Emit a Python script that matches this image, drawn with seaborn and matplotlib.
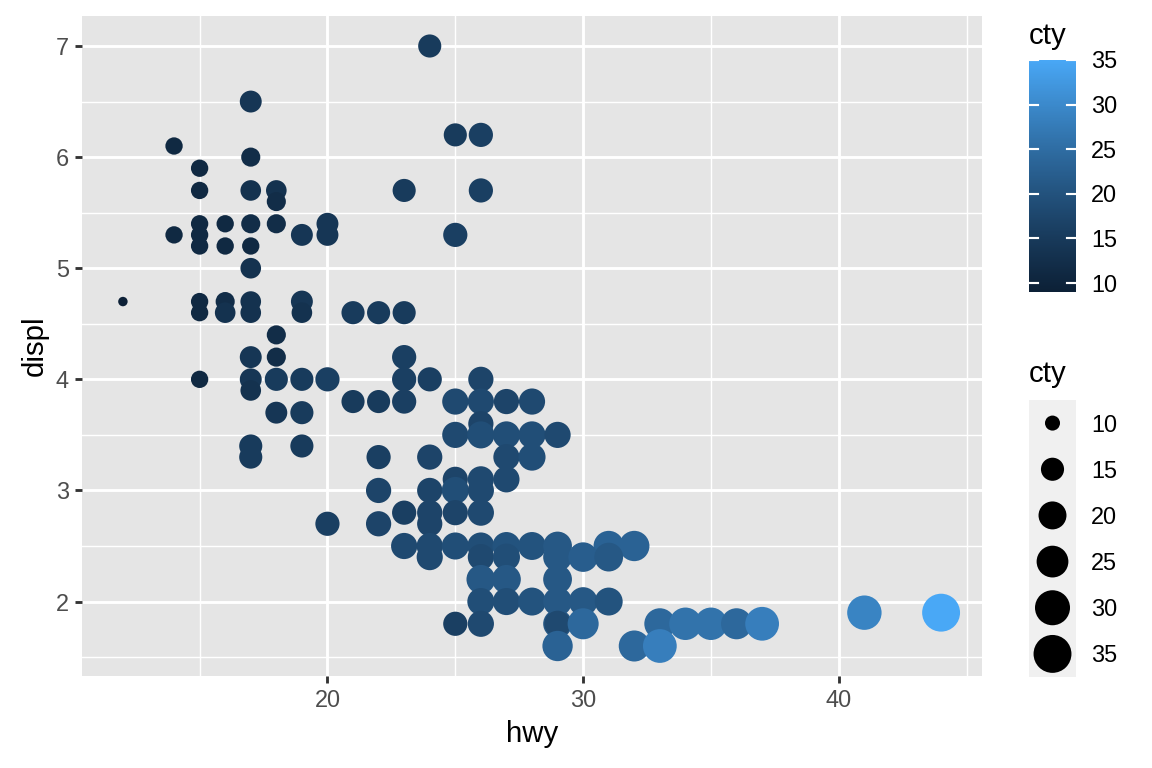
import numpy as np
import pandas as pd
import matplotlib
matplotlib.use("Agg")
import matplotlib.pyplot as plt
import seaborn as sns
from matplotlib.colors import ListedColormap
from matplotlib.ticker import FixedLocator

# ---- data ----
hwy = [24, 17, 25, 26, 14, 17, 15,
       15, 17, 18, 23, 26, 18,
       15, 16, 17, 18, 20,
       14, 15, 19, 20, 25,
       15, 16, 17, 17,
       12, 15, 16, 17, 19,
       15, 16, 17, 19, 21, 22, 23,
       18, 17, 18, 23,
       15, 17, 18, 19, 20, 23, 24, 26,
       17,
       21, 22, 23, 25, 26, 27, 28,
       18, 19, 26,
       25, 26, 27, 28, 29,
       17, 19,
       17, 22, 24, 27, 28,
       25, 26, 27,
       22, 24, 25, 26,
       23, 24, 25, 26,
       20, 22, 24,
       23, 24, 25, 26, 27, 28, 29, 31, 32,
       24, 26, 27, 29, 30, 31,
       26, 27, 29,
       26, 27, 28, 29, 30, 31,
       25, 26, 29, 29, 30, 33, 34, 35, 36, 37,
       29, 32, 33,
       41, 44]
displ = [7.0, 6.5, 6.2, 6.2, 6.1, 6.0, 5.9,
         5.7, 5.7, 5.7, 5.7, 5.7, 5.6,
         5.4, 5.4, 5.4, 5.4, 5.4,
         5.3, 5.3, 5.3, 5.3, 5.3,
         5.2, 5.2, 5.2, 5.0,
         4.7, 4.7, 4.7, 4.7, 4.7,
         4.6, 4.6, 4.6, 4.6, 4.6, 4.6, 4.6,
         4.4, 4.2, 4.2, 4.2,
         4.0, 4.0, 4.0, 4.0, 4.0, 4.0, 4.0, 4.0,
         3.9,
         3.8, 3.8, 3.8, 3.8, 3.8, 3.8, 3.8,
         3.7, 3.7, 3.6,
         3.5, 3.5, 3.5, 3.5, 3.5,
         3.4, 3.4,
         3.3, 3.3, 3.3, 3.3, 3.3,
         3.1, 3.1, 3.1,
         3.0, 3.0, 3.0, 3.0,
         2.8, 2.8, 2.8, 2.8,
         2.7, 2.7, 2.7,
         2.5, 2.5, 2.5, 2.5, 2.5, 2.5, 2.5, 2.5, 2.5,
         2.4, 2.4, 2.4, 2.4, 2.4, 2.4,
         2.2, 2.2, 2.2,
         2.0, 2.0, 2.0, 2.0, 2.0, 2.0,
         1.8, 1.8, 1.8, 1.8, 1.8, 1.8, 1.8, 1.8, 1.8, 1.8,
         1.6, 1.6, 1.6,
         1.9, 1.9]
cty = [15, 14, 15, 16, 11, 12, 11,
       11, 13, 13, 15, 16, 12,
       11, 11, 12, 12, 14,
       11, 11, 14, 14, 16,
       11, 11, 11, 13,
       9, 11, 12, 13, 14,
       11, 13, 13, 13, 15, 15, 15,
       12, 14, 12, 16,
       11, 14, 15, 15, 16, 16, 16, 17,
       13,
       15, 15, 16, 18, 18, 17, 18,
       14, 15, 17,
       18, 19, 19, 19, 18,
       15, 15,
       15, 16, 17, 18, 19,
       17, 18, 18,
       17, 17, 19, 18,
       16, 17, 17, 18,
       16, 17, 17,
       18, 18, 19, 19, 20, 20, 21, 23, 23,
       18, 18, 19, 21, 22, 21,
       21, 21, 21,
       19, 19, 20, 21, 21, 20,
       16, 18, 21, 18, 24, 24, 26, 26, 24, 28,
       23, 24, 28,
       29, 35]

size_breaks = [10, 15, 20, 25, 30, 35]
color_breaks = [10, 15, 20, 25, 30, 35]
cmin, cmax = 9, 35

df = pd.DataFrame({"hwy": hwy, "displ": displ, "cty": cty})

# ---- ggplot-like continuous colour (Lab interpolation) ----
def _hex2rgb(h):
    h = h.lstrip("#")
    return np.array([int(h[i:i + 2], 16) / 255 for i in (0, 2, 4)])

M = np.array([[0.4124564, 0.3575761, 0.1804375],
              [0.2126729, 0.7151522, 0.0721750],
              [0.0193339, 0.1191920, 0.9503041]])
WHITE = np.array([0.95047, 1.0, 1.08883])

def rgb2lab(rgb):
    lin = np.where(rgb <= 0.04045, rgb / 12.92, ((rgb + 0.055) / 1.055) ** 2.4)
    xyz = M @ lin / WHITE
    d = 6 / 29
    f = np.where(xyz > d ** 3, np.cbrt(xyz), xyz / (3 * d * d) + 4 / 29)
    return np.array([116 * f[1] - 16, 500 * (f[0] - f[1]), 200 * (f[1] - f[2])])

def lab2rgb(lab):
    L, a, b = lab
    fy = (L + 16) / 116
    fx = fy + a / 500
    fz = fy - b / 200
    d = 6 / 29
    f = np.array([fx, fy, fz])
    xyz = np.where(f > d, f ** 3, 3 * d * d * (f - 4 / 29)) * WHITE
    lin = np.linalg.inv(M) @ xyz
    lin = np.clip(lin, 0, 1)
    rgb = np.where(lin <= 0.0031308, 12.92 * lin, 1.055 * lin ** (1 / 2.4) - 0.055)
    return np.clip(rgb, 0, 1)

lab_lo = rgb2lab(_hex2rgb("#132B43"))
lab_hi = rgb2lab(_hex2rgb("#56B1F7"))
GAMMA = 1.15  # slight darkening to match the rendered reference
cmap = ListedColormap([lab2rgb(lab_lo + (lab_hi - lab_lo) * t) ** GAMMA
                       for t in np.linspace(0, 1, 256)])

# ---- ggplot-like size mapping ----
def point_area(v):
    t = np.clip((v - cmin) / (cmax - cmin), 0, 1)
    size_mm = 1 + 5 * np.sqrt(t)
    fs = size_mm * 72.27 / 25.4 + 0.5 * (96 / 25.4) / 2
    d = 0.75 * fs + 0.7
    return d ** 2

size_map = {v: point_area(v) for v in sorted(set(cty))}

# ---- figure ----
W, H = 1152, 768
fig = plt.figure(figsize=(6, 4), dpi=192)
plt.rcParams["font.family"] = ["Liberation Sans", "DejaVu Sans"]

L, R, T, B = 82, 982, 16, 676
ax = fig.add_axes([L / W, 1 - B / H, (R - L) / W, (B - T) / H])
ax.set_facecolor("#E5E5E5")

sns.scatterplot(data=df, x="hwy", y="displ", hue="cty", size="cty",
                palette=cmap, hue_norm=(cmin, cmax), sizes=size_map,
                legend=False, linewidth=0, edgecolor="none", alpha=1,
                ax=ax, zorder=3)

ax.set_xlim(10.4, 45.6)
ax.set_ylim(1.33, 7.27)
ax.xaxis.set_major_locator(FixedLocator([20, 30, 40]))
ax.xaxis.set_minor_locator(FixedLocator([15, 25, 35, 45]))
ax.yaxis.set_major_locator(FixedLocator([2, 3, 4, 5, 6, 7]))
ax.yaxis.set_minor_locator(FixedLocator([1.5, 2.5, 3.5, 4.5, 5.5, 6.5]))
ax.grid(which="major", color="white", linewidth=1.07, zorder=0)
ax.grid(which="minor", color="white", linewidth=0.53, zorder=0)
ax.set_axisbelow(True)
for s in ax.spines.values():
    s.set_visible(False)
ax.tick_params(which="major", length=2.75, width=1.07, color="#333333",
               labelcolor="#4D4D4D", labelsize=8.8, pad=2.2)
ax.tick_params(which="minor", length=0)
ax.set_xlabel("hwy", fontsize=11, color="black", labelpad=2.75)
ax.set_ylabel("displ", fontsize=11, color="black", labelpad=2.75)

# ---- colour bar legend ----
cb_l, cb_r, cb_t, cb_b = 1029, 1076, 60, 292
lab_x = 1091
cax = fig.add_axes([cb_l / W, 1 - cb_b / H, (cb_r - cb_l) / W, (cb_b - cb_t) / H])
grad = np.linspace(cmin, cmax, 300).reshape(-1, 1)
cax.imshow(grad, cmap=cmap, vmin=cmin, vmax=cmax, aspect="auto",
           origin="lower", extent=[0, 1, cmin, cmax])
for v in color_breaks:
    cax.plot([0, 0.2], [v, v], color="white", lw=0.8)
    cax.plot([0.8, 1], [v, v], color="white", lw=0.8)
    yy = cb_b - (v - cmin) / (cmax - cmin) * (cb_b - cb_t) + 2
    fig.text(lab_x / W, 1 - yy / H, str(v), fontsize=8.8, va="center", ha="left")
cax.set_xlim(0, 1)
cax.set_ylim(cmin, cmax)
cax.axis("off")
fig.text(cb_l / W, 1 - 36 / H, "cty", fontsize=11, va="center", ha="left")

# ---- size legend ----
sl_t, sl_b = 400, 677
lax = fig.add_axes([cb_l / W, 1 - sl_b / H, (cb_r - cb_l) / W, (sl_b - sl_t) / H])
lax.set_facecolor("#F0F0F0")
lax.set_xlim(0, 1)
lax.set_ylim(len(size_breaks), 0)
key_y = [i + 0.5 for i in range(len(size_breaks))]
lax.scatter([0.5] * len(size_breaks), key_y,
            s=[point_area(v) for v in size_breaks], color="black", linewidths=0)
for s in lax.spines.values():
    s.set_visible(False)
lax.set_xticks([])
lax.set_yticks([])
key_h = (sl_b - sl_t) / len(size_breaks)
for i, v in enumerate(size_breaks):
    yy = sl_t + (i + 0.5) * key_h + 2
    fig.text(lab_x / W, 1 - yy / H, str(v), fontsize=8.8, va="center", ha="left")
fig.text(cb_l / W, 1 - 374 / H, "cty", fontsize=11, va="center", ha="left")

fig.savefig("out.png", dpi=192, facecolor="white")
